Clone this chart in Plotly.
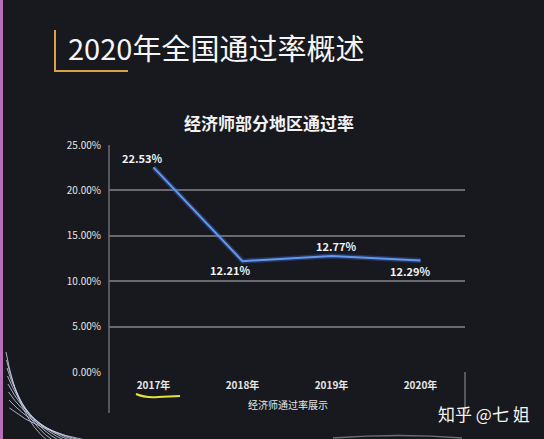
import plotly.graph_objects as go

years = ["2017年", "2018年", "2019年", "2020年"]
rates = [0.2253, 0.1221, 0.1277, 0.1229]
rate_labels = ["22.53%", "12.21%", "12.77%", "12.29%"]
label_xshift = [-11, -12, 5, -10]
label_yshift = [9, -9, 10, -11]
y_ticks = [0, 0.05, 0.10, 0.15, 0.20, 0.25]

slide_title = "2020年全国通过率概述"
chart_title = "经济师部分地区通过率"
x_title = "经济师通过率展示"
watermark = "知乎 @七 姐"

FONT = "Noto Sans CJK SC"
BG = "#18191e"

fig = go.Figure()
# glow
fig.add_trace(go.Scatter(x=years, y=rates, mode="lines",
                         line=dict(color="rgba(60,110,230,0.35)", width=5),
                         hoverinfo="skip", showlegend=False))
fig.add_trace(go.Scatter(x=years, y=rates, mode="lines",
                         line=dict(color="#6598ea", width=2),
                         showlegend=False))

for yr, v, t, dx, dy in zip(years, rates, rate_labels, label_xshift, label_yshift):
    fig.add_annotation(x=yr, y=v, text="<b>" + t + "</b>", showarrow=False,
                       xshift=dx, yshift=dy,
                       font=dict(family=FONT, size=11, color="#f2f2f2"))

def px(x):
    return (x - 109) / 356.0

def py(y):
    return (372 - y) / 227.0

shapes = []
# left vertical axis line extended below plot
shapes.append(dict(type="line", xref="paper", yref="paper", x0=0, x1=0, y0=py(413), y1=1,
                   line=dict(color="#6c6c70", width=1.5)))
shapes.append(dict(type="line", xref="paper", yref="paper", x0=1, x1=1, y0=py(413), y1=0,
                   line=dict(color="#6c6c70", width=1.5)))
# orange bracket near slide title
shapes.append(dict(type="path", xref="paper", yref="paper",
                   path=f"M {px(55)},{py(30)} L {px(55)},{py(71)} L {px(128)},{py(71)}",
                   line=dict(color="#d9a24a", width=2)))
# pink strip on left edge
shapes.append(dict(type="rect", xref="paper", yref="paper", x0=px(-2), x1=px(3), y0=py(445), y1=py(-5),
                   fillcolor="#b870b8", line=dict(width=0)))
# yellow underline
shapes.append(dict(type="path", xref="paper", yref="paper",
                   path=f"M {px(136)},{py(394)} Q {px(145)},{py(398)} {px(158)},{py(397)} L {px(180)},{py(396)}",
                   line=dict(color="#e6e23a", width=2)))
# bottom-left decorative curves
for i in range(8):
    shapes.append(dict(type="path", xref="paper", yref="paper",
                       path=f"M {px(6 + i*0.5)},{py(352 + i*8)} Q {px(18 + i*3)},{py(418 + i*2)} {px(48 + i*6)},{py(441)}",
                       line=dict(color="rgba(205,212,235,0.8)", width=1)))
# faint bottom curve
shapes.append(dict(type="path", xref="paper", yref="paper",
                   path=f"M {px(333)},{py(438)} Q {px(400)},{py(433)} {px(462)},{py(438)}",
                   line=dict(color="rgba(200,200,200,0.5)", width=1.5)))

fig.update_layout(
    width=544, height=439,
    margin=dict(l=109, r=79, t=145, b=67),
    paper_bgcolor=BG, plot_bgcolor=BG,
    font=dict(family=FONT, color="#e8e8e8"),
    shapes=shapes,
    xaxis=dict(type="category", showgrid=False, showline=False, zeroline=False,
               ticks="", ticklabelstandoff=6,
               tickfont=dict(family=FONT, size=10, color="#e6e6e6", weight="bold"),
               range=[-0.5, 3.5], fixedrange=True),
    yaxis=dict(range=[0, 0.25], tickvals=y_ticks, tickformat=".2%",
               showgrid=True, gridcolor="#6a6a6e", gridwidth=1.5,
               zeroline=False, showline=False, ticks="", ticklabelstandoff=7,
               tickfont=dict(family=FONT, size=10, color="#e6e6e6")),
)

fig.add_annotation(xref="paper", yref="paper", x=px(66), y=py(47), xanchor="left", yanchor="middle",
                   text=slide_title, showarrow=False,
                   font=dict(family=FONT, size=29, color="#f6f6f6"))
fig.add_annotation(xref="paper", yref="paper", x=px(269), y=py(122), xanchor="center", yanchor="middle",
                   text="<b>" + chart_title + "</b>", showarrow=False,
                   font=dict(family=FONT, size=17, color="#f2f2f2"))
fig.add_annotation(xref="paper", yref="paper", x=px(288), y=py(404), xanchor="center", yanchor="middle",
                   text=x_title, showarrow=False,
                   font=dict(family=FONT, size=10, color="#e6e6e6"))
fig.add_annotation(xref="paper", yref="paper", x=px(484), y=py(413), xanchor="center", yanchor="middle",
                   text=watermark, showarrow=False,
                   font=dict(family=FONT, size=17, color="#f4f4f4"))

fig.write_html("out.html")
